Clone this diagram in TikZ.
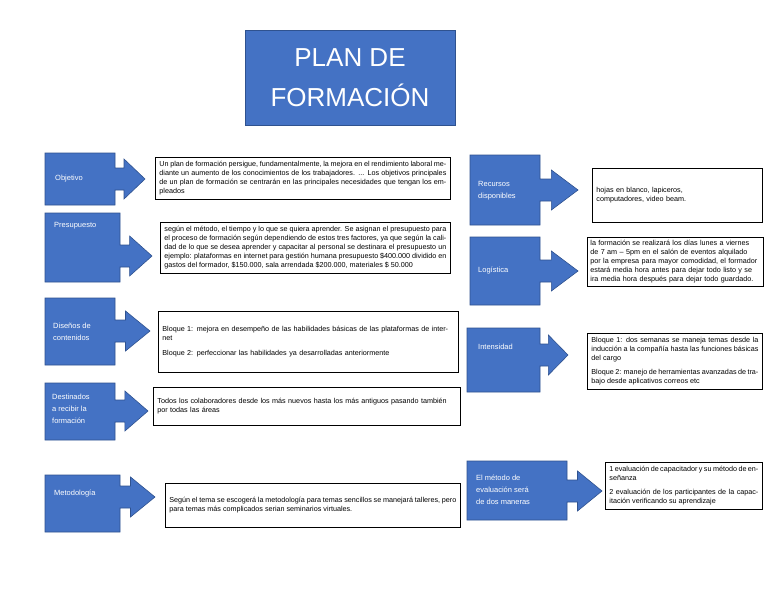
\documentclass[tikz,border=0pt]{standalone}
\usepackage{fontspec}
\setmainfont{Liberation Sans}
\begin{document}
\begin{tikzpicture}[x=1pt,y=-1pt]
\definecolor{blu}{HTML}{4472C4}
\definecolor{bld}{HTML}{2F528F}
\tikzset{
 barrow/.style={fill=blu,draw=bld,line width=0.6pt},
 lbl/.style={text=white,font=\fontsize{7.5}{12}\selectfont,align=left,anchor=west,inner sep=0pt},
 tbox/.style={draw=black,line width=0.8pt,fill=white,anchor=north west,inner sep=4pt,align=justify,font=\fontsize{7.2}{9}\selectfont},
}
\useasboundingbox (0,0) rectangle (768,594);
\fill[white] (0,0) rectangle (768,594);
% #1 x1,#2 y1,#3 x2,#4 y2,#5 tipx,#6 midy
\newcommand\barr[6]{\path[barrow] (#1,#2) -- (#3,#2) -- (#3,{#6-11}) -- ({#3+(#5-#3)*0.3},{#6-11}) -- ({#3+(#5-#3)*0.3},{#6-20}) -- (#5,#6) -- ({#3+(#5-#3)*0.3},{#6+20}) -- ({#3+(#5-#3)*0.3},{#6+11}) -- (#3,{#6+11}) -- (#3,#4) -- (#1,#4) -- cycle;}
% title
\node[fill=blu,draw=bld,line width=0.6pt,minimum width=210pt,minimum height=95pt,text=white,font=\fontsize{26}{40}\selectfont,align=center] (title) at (350,77.5) {PLAN DE\\FORMACIÓN};
% left column
\barr{45}{153}{115}{205}{145}{179}
\node[lbl] (l1) at (55,179) {Objetivo};
\node[tbox,text width=287pt] (t1) at (155,157) {Un plan de formación persigue, fundamentalmente, la mejora en el rendimiento laboral mediante un aumento de los conocimientos de los trabajadores. ... Los objetivos principales de un plan de formación se centrarán en las principales necesidades que tengan los empleados};
\barr{45}{213}{120}{282}{152}{256}
\node[lbl] (l2) at (54,226) {Presupuesto};
\node[tbox,text width=282pt] (t2) at (160,222) {según el método, el tiempo y lo que se quiera aprender. Se asignan el presupuesto para el proceso de formación según dependiendo de estos tres factores, ya que según la calidad de lo que se desea aprender y capacitar al personal se destinara el presupuesto un ejemplo: plataformas en internet para gestión humana presupuesto \$400.000 dividido en gastos del formador, \$150.000, sala arrendada \$200.000, materiales \$ 50.000};
\barr{45}{298}{115}{365}{150}{331}
\node[lbl] (l3) at (53,332) {Diseños de\\contenidos};
\node[tbox,text width=292pt,minimum height=61pt,align=left] (t3) at (158,311) {Bloque 1: mejora en desempeño de las habilidades básicas de las plataformas de internet\\[6pt]Bloque 2: perfeccionar las habilidades ya desarrolladas anteriormente};
\barr{45}{383}{115}{440}{148}{411}
\node[lbl] (l4) at (52,409) {Destinados\\a recibir la\\formación};
\node[tbox,text width=299pt,minimum height=38pt,align=left] (t4) at (153,387) {Todos los colaboradores desde los más nuevos hasta los más antiguos pasando también por todas las áreas};
\barr{45}{475}{120}{532}{155}{497}
\node[lbl] (l5) at (54,494) {Metodología};
\node[tbox,text width=287pt,minimum height=44pt] (t5) at (165,483) {Según el tema se escogerá la metodología para temas sencillos se manejará talleres, pero para temas más complicados serian seminarios virtuales.};
% right column
\barr{470}{155}{540}{225}{578}{190}
\node[lbl] (r1) at (478,191) {Recursos\\disponibles};
\node[tbox,text width=162pt,minimum height=54pt,align=left] (s1) at (592,168) {hojas en blanco, lapiceros,\\computadores, video beam.};
\barr{470}{237}{540}{305}{578}{271}
\node[lbl] (r2) at (478,271) {Logística};
\node[tbox,text width=170pt,align=left,inner sep=3pt] (s2) at (587,237) {la formación se realizará los días lunes a viernes de 7 am – 5pm en el salón de eventos alquilado por la empresa para mayor comodidad, el formador estará media hora antes para dejar todo listo y se ira media hora después para dejar todo guardado.};
\barr{467}{328}{540}{392}{568}{355}
\node[lbl] (r3) at (478,347) {Intensidad};
\node[tbox,text width=167pt] (s3) at (587,333) {Bloque 1: dos semanas se maneja temas desde la inducción a la compañía hasta las funciones básicas del cargo\par\vspace{5pt}Bloque 2: manejo de herramientas avanzadas de trabajo desde aplicativos correos etc};
\barr{467}{461}{567}{520}{602}{491}
\node[lbl] (r4) at (476,490) {El método de\\evaluación será\\de dos maneras};
\node[tbox,text width=149pt] (s4) at (605,462) {1 evaluación de capacitador y su método de enseñanza\par\vspace{5pt}2 evaluación de los participantes de la capacitación verificando su aprendizaje};
\end{tikzpicture}
\end{document}
